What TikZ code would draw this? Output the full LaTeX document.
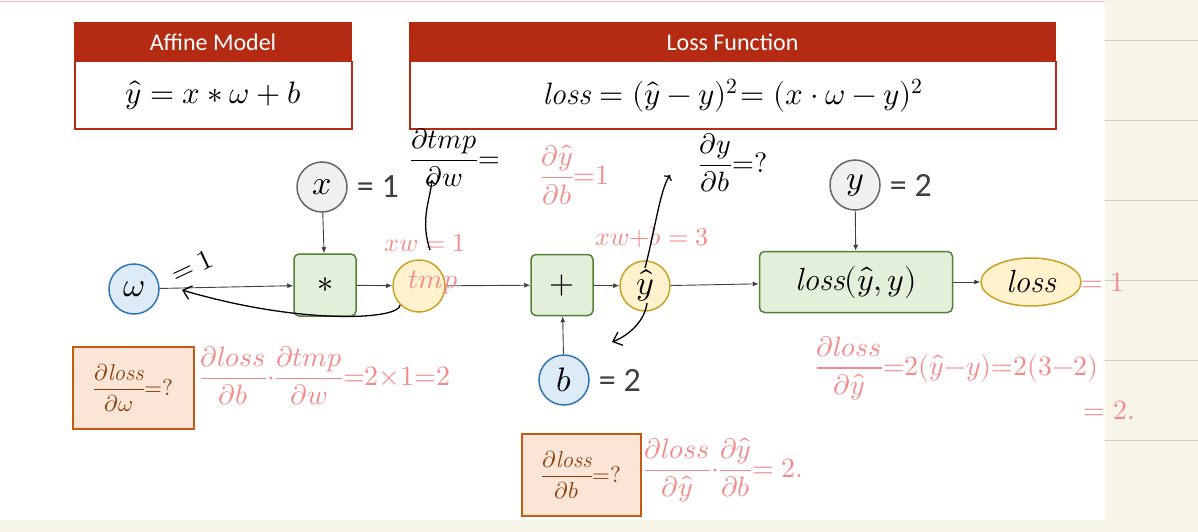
\documentclass[tikz,border=0pt]{standalone}
\usepackage{amsmath}
\usepackage{fontspec}
\usepackage{unicode-math}
\setmathfont{Latin Modern Math}
\newfontfamily\carl{Carlito}
\usetikzlibrary{arrows.meta,shapes.geometric}
\definecolor{hdr}{HTML}{B52A12}
\definecolor{pk}{HTML}{F48A8A}
\definecolor{gbd}{HTML}{538135}
\definecolor{gfl}{HTML}{E2EFDA}
\definecolor{bbd}{HTML}{2E75B6}
\definecolor{bfl}{HTML}{DDEBF7}
\definecolor{ybd}{HTML}{C9A227}
\definecolor{yfl}{HTML}{FFF2CC}
\definecolor{obd}{HTML}{C55A11}
\definecolor{ofl}{HTML}{FBE5D6}
\definecolor{txt}{HTML}{404040}
\definecolor{bg}{HTML}{F7F4E8}
\tikzset{
 hbox/.style={draw=hdr,fill=hdr,text=white,font=\carl\fontsize{24}{24}\selectfont,inner sep=0,line width=1pt},
 bbox/.style={draw=hdr,fill=white,inner sep=0,line width=1.5pt,font=\fontsize{31}{31}\selectfont},
 circ/.style={circle,minimum size=50pt,inner sep=0,line width=1.5pt,font=\fontsize{34}{34}\selectfont},
 gray/.style={circ,draw=gray!80!black,fill=gray!12},
 blu/.style={circ,draw=bbd,fill=bfl},
 yel/.style={circ,draw=ybd,fill=yfl},
 grn/.style={rounded corners=5pt,draw=gbd,fill=gfl,line width=1.5pt,font=\fontsize{32}{32}\selectfont},
 obox/.style={draw=obd,fill=ofl,line width=1.5pt,text=obd!70!black,font=\fontsize{23}{23}\selectfont},
 ar/.style={-{Latex[length=6pt,width=5pt]},draw=txt,line width=0.9pt},
 hw/.style={text=pk,font=\fontsize{28}{28}\selectfont},
 hk/.style={text=black,font=\fontsize{28}{28}\selectfont},
 ink/.style={black,line width=1.3pt},
 eq/.style={text=txt,font=\carl\fontsize{34}{34}\selectfont,anchor=west}
}
\begin{document}
\begin{tikzpicture}[x=1pt,y=-1pt]
\useasboundingbox (0,0) rectangle (1198,532);
\fill[white] (0,0) rectangle (1198,532);
\fill[bg] (1105,0) rectangle (1198,532);
\fill[bg] (0,520) rectangle (1198,532);
\foreach \yy in {40,120,200,280,360,440}{\draw[gray!40] (1105,\yy)--(1198,\yy);}
\draw[pk!60] (0,1)--(1105,1);
% headers
\node[hbox,minimum width=277pt,minimum height=39pt,anchor=north west] (ah) at (74,22) {Affine Model};
\node[bbox,minimum width=277pt,minimum height=67pt,anchor=north west] (ab) at (74,61) {$\hat{y}=x*\omega+b$};
\node[hbox,minimum width=646pt,minimum height=39pt,anchor=north west] (lh) at (409,22) {Loss Function};
\node[bbox,minimum width=646pt,minimum height=67pt,anchor=north west] (lb) at (409,61) {$\mathit{loss}=(\hat{y}-y)^2\!=(x\cdot\omega-y)^2$};
% nodes
\node[gray] (x) at (322,187) {$x$};
\node[eq] (x1) at (x.east) {\,= 1};
\node[blu] (w) at (134,289) {$\omega$};
\node[grn,minimum width=62pt,minimum height=62pt] (mul) at (325,285) {$*$};
\node[yel,minimum size=52pt] (tmp) at (419,286) {};
\node[grn,minimum width=62pt,minimum height=61pt] (add) at (562,285) {$+$};
\node[yel] (yh) at (645,286) {$\hat{y}$};
\node[grn,minimum width=193pt,minimum height=61pt] (lf) at (856,282) {$\mathit{loss}(\hat{y},y)$};
\node[ellipse,draw=ybd,fill=yfl,line width=1.5pt,minimum width=100pt,minimum height=48pt,inner sep=0,font=\fontsize{32}{32}\selectfont] (lo) at (1031,282) {$\mathit{loss}$};
\node[gray] (y) at (855,185) {$y$};
\node[eq] (y2) at (y.east) {\,= 2};
\node[blu] (b) at (564,380) {$b$};
\node[eq] (b2) at (b.east) {\,= 2};
% arrows
\draw[ar] (x)--(mul);
\draw[ar] (w)--(mul);
\draw[ar] (mul)--(tmp);
\draw[ar] (tmp)--(add);
\draw[ar] (add)--(yh);
\draw[ar] (yh)--(lf);
\draw[ar] (lf)--(lo);
\draw[ar] (y)--(lf);
\draw[ar] (b)--(add);
% question boxes
\node[obox,minimum width=121pt,minimum height=82pt,anchor=north west] (q1) at (72,346) {$\dfrac{\partial \mathit{loss}}{\partial\omega}{=}?$};
\node[obox,minimum width=119pt,minimum height=82pt,anchor=north west] (q2) at (521,433) {$\dfrac{\partial \mathit{loss}}{\partial b}{=}?$};
% handwriting
\node[hw] (ht) at (433,282) {$tmp$};
\node[hw,font=\fontsize{26}{26}\selectfont] (hxw) at (425,243) {$xw=1$};
\node[hw,font=\fontsize{26}{26}\selectfont] (hxwb) at (652,238) {$xw{+}b=3$};
\node[hw] (hdyb) at (575,175) {$\dfrac{\partial\hat y}{\partial b}{=}1$};
\node[hk,rotate=25] (hw1) at (192,266) {$=1$};
\node[hk] (hdt) at (455,158) {$\dfrac{\partial tmp}{\partial w}{=}$};
\node[hk] (hdy) at (733,163) {$\dfrac{\partial y}{\partial b}{=}?$};
\node[hw,anchor=west] (hq1) at (196,376) {$\dfrac{\partial loss}{\partial b}{\cdot}\dfrac{\partial tmp}{\partial w}{=}2{\times}1{=}2$};
\node[hw,anchor=west] (hq2) at (640,470) {$\dfrac{\partial loss}{\partial \hat y}{\cdot}\dfrac{\partial \hat y}{\partial b}{=}\;2.$};
\node[hw,anchor=west] (hl) at (812,368) {$\dfrac{\partial loss}{\partial \hat y}{=}2(\hat y{-}y){=}2(3{-}2)$};
\node[hw,anchor=west] (hl2) at (1080,410) {$=2.$};
\node[hw] (hlo) at (1103,282) {$=1$};
% ink curves
\draw[ink,-{Straight Barb[length=8pt,width=14pt]}] (tmp.south west) .. controls (400,320) and (300,325) .. (182,290);
\draw[ink,->] (430,250) .. controls (420,220) and (430,200) .. (432,180);
\draw[ink,->] (645,268) .. controls (655,230) and (660,190) .. (670,175);
\draw[ink,-{Straight Barb[length=8pt,width=14pt]}] (647,303) .. controls (645,320) and (630,335) .. (612,342);
\end{tikzpicture}
\end{document}
